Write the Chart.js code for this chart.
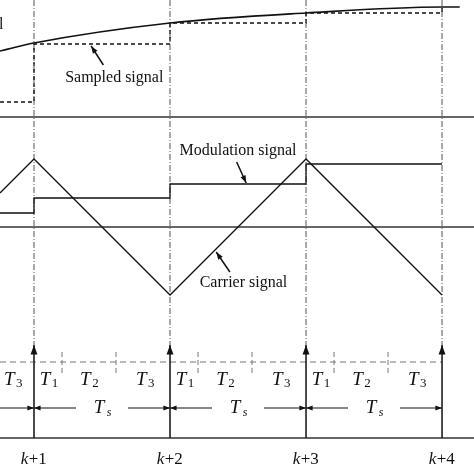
<!DOCTYPE html>
<html><head><meta charset="utf-8">
<script src="https://cdn.jsdelivr.net/npm/chart.js@4.4.3/dist/chart.umd.min.js"></script>
<style>html,body{margin:0;background:#fff}#wrap{width:474px;height:474px}</style>
</head><body><div id="wrap"><canvas id="c"></canvas></div>
<script>
// x in sampling periods (k+1 = 1), y in diagram units (0 top .. 474 bottom)
const kTicks = [1, 2, 3, 4];
const kLabels = ["k+1", "k+2", "k+3", "k+4"];
const origX = [0.75, 1, 2, 3, 4, 4.13];
const origY = [51, 43, 23, 13, 7, 7];
const sampX = [0.75, 1, 2, 3, 4];
const sampY = [102, 44, 23, 13, 7];
const modX = [0.75, 1, 2, 3, 4];
const modY = [213, 198, 184, 164, 164];
const carX = [0.75, 1, 2, 3, 4];
const carY = [193, 159, 295, 159, 295];
const axisLevels = [117, 227, 438];
const subBounds = [0.206, 0.603];
const subLabels = [["1", 0.103], ["2", 0.40], ["3", 0.81]];
const XMIN = 0.75, XMAX = 4.235;

const pts = (xs, ys) => xs.map((x, i) => ({ x, y: ys[i] }));
const line = (data, extra) => Object.assign({ data, showLine: true, pointRadius: 0, borderColor: "#111", borderWidth: 1.3, fill: false }, extra);

const datasets = [
  line(pts(origX, origY), { cubicInterpolationMode: "monotone", borderWidth: 1.6 }),
  line(pts(sampX, sampY), { stepped: "before", borderDash: [4, 3] }),
  line(pts(modX, modY), { stepped: "before" }),
  line(pts(carX, carY)),
  line(pts([XMIN, 4], [362, 362]), { borderDash: [6, 4], borderColor: "#777", borderWidth: 1 }),
];
axisLevels.forEach((y) => datasets.push(line(pts([XMIN, XMAX], [y, y]), { borderColor: "#333", borderWidth: 1.5 })));
kTicks.forEach((x) => datasets.push(line(pts([x, x], [0, 345]), { borderDash: [6, 2, 1, 2], borderColor: "#555", borderWidth: 1 })));

function arrow(ctx, x1, y1, x2, y2, size) {
  const a = Math.atan2(y2 - y1, x2 - x1);
  ctx.beginPath(); ctx.moveTo(x1, y1); ctx.lineTo(x2, y2); ctx.stroke();
  ctx.beginPath();
  ctx.moveTo(x2, y2);
  ctx.lineTo(x2 - size * Math.cos(a - 0.35), y2 - size * Math.sin(a - 0.35));
  ctx.lineTo(x2 - size * Math.cos(a + 0.35), y2 - size * Math.sin(a + 0.35));
  ctx.closePath(); ctx.fill();
}

const annot = {
  id: "annot",
  afterDatasetsDraw(chart) {
    const { ctx, scales: { x: sx, y: sy } } = chart;
    const X = (v) => sx.getPixelForValue(v), Y = (v) => sy.getPixelForValue(v);
    ctx.save();
    ctx.strokeStyle = "#111"; ctx.fillStyle = "#111"; ctx.lineWidth = 1.5;
    // sampling arrows
    kTicks.forEach((k) => arrow(ctx, X(k), Y(438), X(k), Y(345), 10));
    // sub-interval ticks
    ctx.strokeStyle = "#777"; ctx.lineWidth = 1; ctx.setLineDash([5, 3]);
    [0, 1, 2].forEach((p) => subBounds.forEach((b) => {
      ctx.beginPath(); ctx.moveTo(X(1 + p + b), Y(352)); ctx.lineTo(X(1 + p + b), Y(375)); ctx.stroke();
    }));
    ctx.setLineDash([]);
    ctx.strokeStyle = "#111"; ctx.lineWidth = 1.2;
    // Ts arrows
    const ty = Y(408);
    arrow(ctx, X(XMIN), ty, X(1), ty, 7);
    [1, 2, 3].forEach((k) => {
      const m = X(k + 0.5);
      arrow(ctx, m - 26, ty, X(k), ty, 7);
      arrow(ctx, m + 26, ty, X(k + 1), ty, 7);
      ctx.font = "italic 19px 'Liberation Serif'"; ctx.textAlign = "center"; ctx.textBaseline = "middle";
      ctx.fillText("T", m - 3, ty);
      ctx.font = "italic 12px 'Liberation Serif'"; ctx.fillText("s", m + 7, ty + 5);
    });
    // T1 T2 T3 labels
    const tl = (x, s) => {
      ctx.font = "italic 19px 'Liberation Serif'"; ctx.textAlign = "center"; ctx.textBaseline = "middle";
      ctx.fillText("T", X(x) - 3, Y(380));
      ctx.font = "13px 'Liberation Serif'"; ctx.fillText(s, X(x) + 7, Y(384));
    };
    tl(0.84, "3");
    [1, 2, 3].forEach((k) => subLabels.forEach(([s, o]) => tl(k + o, s)));
    // k labels
    ctx.textBaseline = "middle";
    kTicks.forEach((k, i) => {
      ctx.font = "17px 'Liberation Serif'";
      const w = ctx.measureText(kLabels[i]).width;
      ctx.font = "italic 17px 'Liberation Serif'"; ctx.textAlign = "left";
      ctx.fillText("k", X(k) - w / 2, Y(460));
      ctx.font = "17px 'Liberation Serif'";
      ctx.fillText("+" + kLabels[i].slice(2), X(k) - w / 2 + 8, Y(460));
    });
    // signal labels
    ctx.font = "16px 'Liberation Serif'"; ctx.textAlign = "center";
    ctx.fillText("Sampled signal", X(1.59), Y(78));
    ctx.fillText("Modulation signal", X(2.5), Y(151));
    ctx.fillText("Carrier signal", X(2.54), Y(283));
    ctx.textAlign = "left"; ctx.fillText("l", X(XMIN) - 1, Y(25));
    ctx.lineWidth = 1.5;
    arrow(ctx, X(1.51), Y(65), X(1.42), Y(46), 8);
    arrow(ctx, X(2.49), Y(162), X(2.56), Y(183), 8);
    arrow(ctx, X(2.44), Y(272), X(2.34), Y(252), 8);
    ctx.restore();
  }
};

new Chart(document.getElementById("c"), {
  type: "scatter",
  data: { datasets },
  options: {
    responsive: true, maintainAspectRatio: false, animation: false,
    layout: { padding: 0 },
    plugins: { legend: { display: false }, tooltip: { enabled: false } },
    scales: {
      x: { type: "linear", min: XMIN, max: XMAX, display: false },
      y: { type: "linear", min: 0, max: 474, reverse: true, display: false },
    },
  },
  plugins: [annot],
});
</script></body></html>
